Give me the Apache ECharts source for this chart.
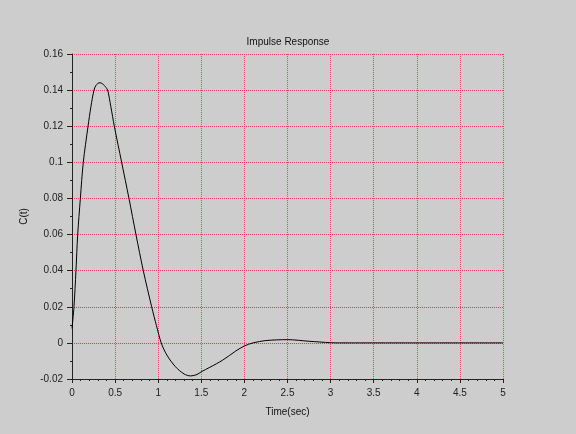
<!DOCTYPE html>
<html>
<head>
<meta charset="utf-8">
<script src="https://cdn.jsdelivr.net/npm/echarts@6/dist/echarts.min.js"></script>
<style>
html,body{margin:0;padding:0;background:#cdcdcd;}
#chart{width:576px;height:434px;}
</style>
</head>
<body>
<div id="chart"></div>
<script>
var timeSec = [0, 0.023, 0.046, 0.066, 0.097, 0.131, 0.186, 0.22, 0.255, 0.275, 0.3, 0.325, 0.35, 0.375, 0.395, 0.414, 0.45, 0.491, 0.576, 0.661, 0.742, 0.827, 0.924, 0.98, 1.035, 1.1, 1.2, 1.3, 1.377, 1.45, 1.5, 1.6, 1.75, 1.9, 2.0, 2.1, 2.25, 2.5, 2.75, 3.0, 3.1, 5.0];
var response = [0.008, 0.020, 0.040, 0.060, 0.080, 0.100, 0.120, 0.131, 0.140, 0.1424, 0.1437, 0.1441, 0.1436, 0.1426, 0.1414, 0.140, 0.131, 0.120, 0.100, 0.080, 0.060, 0.040, 0.020, 0.0095, 0.000, -0.0067, -0.0132, -0.0172, -0.0183, -0.0175, -0.016, -0.0135, -0.0095, -0.0045, -0.0017, 0.0000, 0.0013, 0.0018, 0.0009, 0.0001, 0, 0];
var titleText = 'Impulse Response';
var xName = 'Time(sec)';
var yName = 'C(t)';

var pts = timeSec.map(function (t, i) { return [t, response[i]]; });
var chart = echarts.init(document.getElementById('chart'));
var gridLine = { show: true, lineStyle: { color: '#e2475a', width: 1, type: [1, 1] } };
var font = 'Liberation Sans, Arial, sans-serif';
chart.setOption({
  backgroundColor: '#cdcdcd',
  animation: false,
  title: {
    text: titleText, left: 'center', top: 32,
    textStyle: { fontSize: 10, fontWeight: 'normal', color: '#111', fontFamily: font }
  },
  grid: { left: 72, right: 73, top: 54, bottom: 55, containLabel: false },
  xAxis: {
    type: 'value', min: 0, max: 5, interval: 0.5,
    name: xName, nameLocation: 'middle', nameGap: 28,
    nameTextStyle: { fontSize: 10, color: '#111', fontFamily: font },
    axisLine: { show: true, onZero: false, lineStyle: { color: '#222', width: 1 } },
    axisTick: { show: true, length: 4, lineStyle: { color: '#222' } },
    minorTick: { show: true, splitNumber: 5, length: 2, lineStyle: { color: '#222' } },
    axisLabel: { fontSize: 10, color: '#222', margin: 9, fontFamily: font },
    splitLine: gridLine
  },
  yAxis: {
    type: 'value', min: -0.02, max: 0.16, interval: 0.02,
    name: yName, nameLocation: 'middle', nameGap: 38,
    nameTextStyle: { fontSize: 10, color: '#111', fontFamily: font },
    axisLine: { show: true, onZero: false, lineStyle: { color: '#222', width: 1 } },
    axisTick: { show: true, length: 5, lineStyle: { color: '#222' } },
    minorTick: { show: true, splitNumber: 2, length: 2, lineStyle: { color: '#222' } },
    axisLabel: { fontSize: 10, color: '#222', margin: 9, fontFamily: font },
    splitLine: gridLine
  },
  series: [{
    type: 'line', data: pts, showSymbol: false, smooth: 0.3,
    lineStyle: { color: '#000', width: 1 }
  }]
});
</script>
</body>
</html>
